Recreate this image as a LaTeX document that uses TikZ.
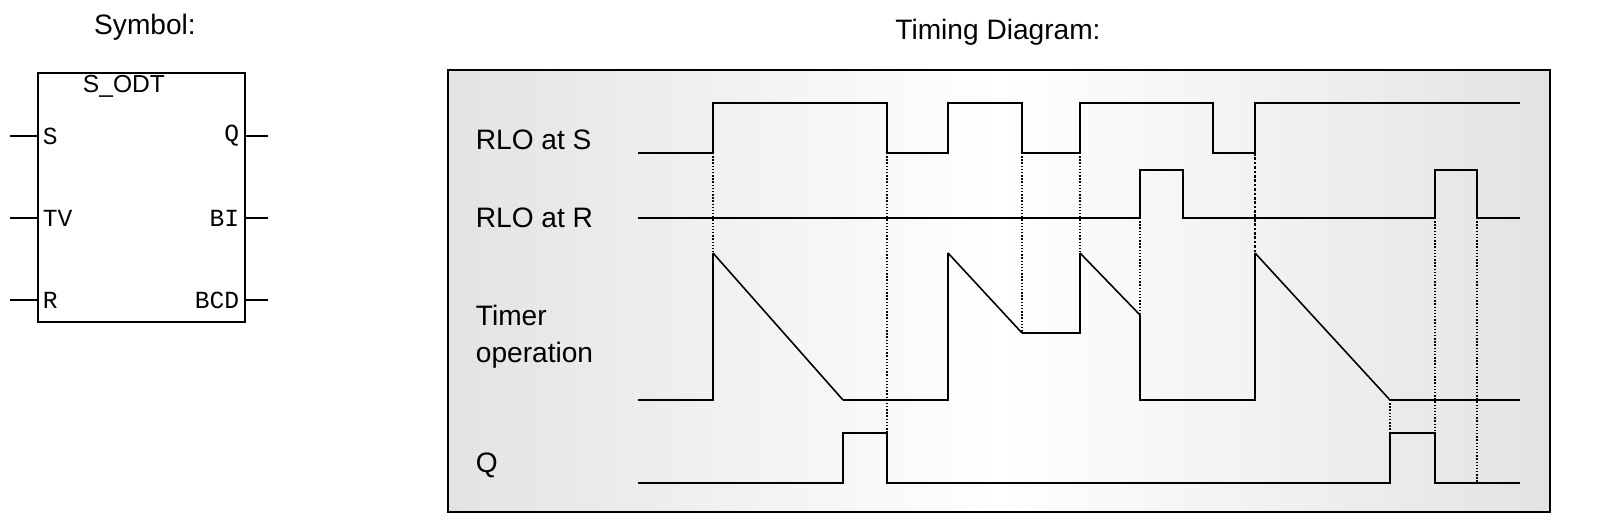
\documentclass[tikz,border=0pt]{standalone}
\usepackage{fontspec}
\setmainfont{Liberation Sans}
\newfontfamily\pinfont{Liberation Mono}
\begin{document}
\begin{tikzpicture}[x=0.02cm,y=-0.02cm,
  sig/.style={line width=1.3pt},
  slope/.style={line width=0.9pt},
  dot/.style={densely dotted,line width=0.8pt},
  lbl/.style={font=\fontsize{16}{19}\selectfont,inner sep=0pt},
  pin/.style={font=\pinfont\fontsize{14}{16}\selectfont,inner sep=0pt},
  line width=1pt]
\node[lbl] (t1) at (145,27) {Symbol:};
\node[lbl] (t2) at (998,32) {Timing Diagram:};
% symbol
\draw[line width=1.2pt] (38,73) rectangle (245,322);
\node[lbl,font=\fontsize{14}{16}\selectfont] (nm) at (124,86) {S\_ODT};
\foreach \y/\l/\r in {136/S/Q,218/TV/BI,300/R/BCD}{
  \draw (10,\y) -- (38,\y);
  \draw (245,\y) -- (268,\y);
  \node[pin,anchor=west] at (42,\y) {\l};
  \node[pin,anchor=east] at (240,\y) {\r};
}
% panel
\draw[line width=1pt,left color=gray!22,right color=gray!22,middle color=white] (448,70) rectangle (1550,512);
\node[lbl,anchor=west] (ls) at (475,140) {RLO at S};
\node[lbl,anchor=west] (lr) at (475,218) {RLO at R};
\node[lbl,anchor=west,align=left] (lt) at (475,337) {Timer\\[2pt]operation};
\node[lbl,anchor=west] (lq) at (475,465) {Q};
% dotted
\draw[dot] (713,153) -- (713,253);
\draw[dot] (887,153) -- (887,483);
\draw[dot] (1022,153) -- (1022,333);
\draw[dot] (1080,153) -- (1080,253);
\draw[dot] (1140,218) -- (1140,315);
\draw[dot,line width=1.5pt] (1255,153) -- (1255,253);
\draw[dot] (1390,400) -- (1390,483);
\draw[dot] (1435,218) -- (1435,483);
\draw[dot] (1477,218) -- (1477,483);
% signals
\draw[sig] (638,153) -- (713,153) -- (713,103) -- (887,103) -- (887,153) -- (948,153) -- (948,103) -- (1022,103) -- (1022,153) -- (1080,153) -- (1080,103) -- (1213,103) -- (1213,153) -- (1255,153) -- (1255,103) -- (1520,103);
\draw[sig] (638,218) -- (1140,218) -- (1140,170) -- (1183,170) -- (1183,218) -- (1435,218) -- (1435,170) -- (1477,170) -- (1477,218) -- (1520,218);
\draw[sig] (638,400) -- (713,400) -- (713,253);
\draw[slope] (713,253) -- (843,400);
\draw[sig] (843,400) -- (948,400) -- (948,253);
\draw[slope] (948,253) -- (1022,333);
\draw[sig] (1022,333) -- (1080,333) -- (1080,253);
\draw[slope] (1080,253) -- (1140,315);
\draw[sig] (1140,315) -- (1140,400) -- (1255,400) -- (1255,253);
\draw[slope] (1255,253) -- (1390,400);
\draw[sig] (1390,400) -- (1520,400);
\draw[sig] (638,483) -- (843,483) -- (843,433) -- (887,433) -- (887,483) -- (1390,483) -- (1390,433) -- (1435,433) -- (1435,483) -- (1520,483);
\pgfresetboundingbox
\useasboundingbox (0,0) rectangle (1600,530);
\end{tikzpicture}
\end{document}
